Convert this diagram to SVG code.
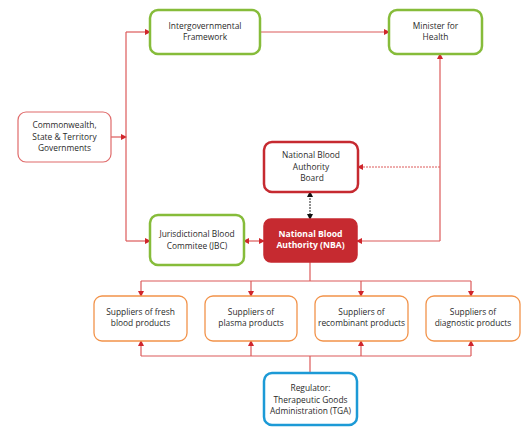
<svg xmlns="http://www.w3.org/2000/svg" width="524" height="436" viewBox="0 0 524 436">
<style>
text{font-family:"Open Sans","Noto Sans","Liberation Sans",sans-serif;font-size:8.4px;fill:#2a2a2a;text-anchor:middle}
.g{fill:#fff;stroke:#86bc3a;stroke-width:2.5}
.r{fill:#fff;stroke:#e06b6b;stroke-width:1.2}
.rb{fill:#fff;stroke:#c62a30;stroke-width:2.5}
.nba{fill:#c62a30;stroke:#c62a30;stroke-width:1.5}
.o{fill:#fff;stroke:#f2934a;stroke-width:1.3}
.b{fill:#fff;stroke:#1c9ad6;stroke-width:2.5}
.c{fill:none;stroke:#dc5a5a;stroke-width:1.2}
.d{fill:none;stroke:#dc5a5a;stroke-width:1;stroke-dasharray:2 1}
.k{fill:none;stroke:#222;stroke-width:1;stroke-dasharray:2 1}
.w{fill:#fff;font-weight:bold;font-size:8.6px}
</style>
<defs>
<marker id="a" markerWidth="6" markerHeight="6" refX="5" refY="3" orient="auto" markerUnits="userSpaceOnUse"><path d="M0,0 L6,3 L0,6 Z" fill="#d0262c"/></marker>
<marker id="as" markerWidth="6" markerHeight="6" refX="1" refY="3" orient="auto" markerUnits="userSpaceOnUse"><path d="M6,0 L0,3 L6,6 Z" fill="#d0262c"/></marker>
<marker id="ak" markerWidth="6" markerHeight="6" refX="5" refY="3" orient="auto" markerUnits="userSpaceOnUse"><path d="M0,0 L6,3 L0,6 Z" fill="#111"/></marker>
<marker id="aks" markerWidth="6" markerHeight="6" refX="1" refY="3" orient="auto" markerUnits="userSpaceOnUse"><path d="M6,0 L0,3 L6,6 Z" fill="#111"/></marker>
</defs>
<g id="connectors">
<path class="c" d="M260,32 H389" marker-end="url(#a)"/>
<path class="c" d="M111,137 H126" marker-end="url(#a)"/>
<path class="c" d="M126,32 V241"/>
<path class="c" d="M126,32 H150" marker-end="url(#a)"/>
<path class="c" d="M126,241 H150" marker-end="url(#a)"/>
<path class="c" d="M244,241 H264" marker-start="url(#as)" marker-end="url(#a)"/>
<path class="k" d="M310,192 V219" marker-start="url(#aks)" marker-end="url(#ak)"/>
<path class="c" d="M440,241 V54" marker-end="url(#a)"/>
<path class="c" d="M440,241 H357" marker-end="url(#a)"/>
<path class="d" d="M440,167 H358" marker-end="url(#a)"/>
<path class="c" d="M310,262 V281 M141,281 H471"/>
<path class="c" d="M141,281 V296" marker-end="url(#a)"/>
<path class="c" d="M251,281 V296" marker-end="url(#a)"/>
<path class="c" d="M361,281 V296" marker-end="url(#a)"/>
<path class="c" d="M471,281 V296" marker-end="url(#a)"/>
<path class="c" d="M310,373 V356 M141,356 H471"/>
<path class="c" d="M141,356 V341" marker-end="url(#a)"/>
<path class="c" d="M251,356 V341" marker-end="url(#a)"/>
<path class="c" d="M361,356 V341" marker-end="url(#a)"/>
<path class="c" d="M471,356 V341" marker-end="url(#a)"/>
</g>
<g id="igf"><rect class="g" x="150" y="10" width="110" height="44" rx="8"/><text x="205" y="29">Intergovernmental</text><text x="205" y="40">Framework</text></g>
<g id="minister"><rect class="g" x="389" y="10" width="93" height="44" rx="8"/><text x="435.5" y="29">Minister for</text><text x="435.5" y="40">Health</text></g>
<g id="cstg"><rect class="r" x="18" y="112" width="93" height="50" rx="8"/><text x="64.5" y="128">Commonwealth,</text><text x="64.5" y="139.5">State &amp; Territory</text><text x="64.5" y="150.5">Governments</text></g>
<g id="board"><rect class="rb" x="264" y="142" width="94" height="50" rx="8"/><text x="311" y="158">National Blood</text><text x="311" y="169.5">Authority</text><text x="312" y="180.5">Board</text></g>
<g id="jbc"><rect class="g" x="150" y="215" width="94" height="50" rx="8"/><text x="197" y="237">Jurisdictional Blood</text><text x="197" y="248.5">Commitee (JBC)</text></g>
<g id="nba"><rect class="nba" x="264" y="219" width="93" height="43" rx="7"/><text class="w" x="310.5" y="236.5">National Blood</text><text class="w" x="310.5" y="248">Authority (NBA)</text></g>
<g id="s1"><rect class="o" x="94" y="296" width="93" height="45" rx="8"/><text x="140.5" y="314.5">Suppliers of fresh</text><text x="140.5" y="325.5">blood products</text></g>
<g id="s2"><rect class="o" x="205" y="296" width="92" height="45" rx="8"/><text x="251" y="314.5">Suppliers of</text><text x="251" y="325.5">plasma products</text></g>
<g id="s3"><rect class="o" x="315" y="296" width="93" height="45" rx="8"/><text x="361.5" y="314.5">Suppliers of</text><text x="361.5" y="325.5">recombinant products</text></g>
<g id="s4"><rect class="o" x="426" y="296" width="94" height="45" rx="8"/><text x="473" y="314.5">Suppliers of</text><text x="473" y="325.5">diagnostic products</text></g>
<g id="tga"><rect class="b" x="264" y="373" width="93" height="52" rx="8"/><text x="310.5" y="391">Regulator:</text><text x="310.5" y="402.5">Therapeutic Goods</text><text x="310.5" y="414">Administration (TGA)</text></g>
</svg>
